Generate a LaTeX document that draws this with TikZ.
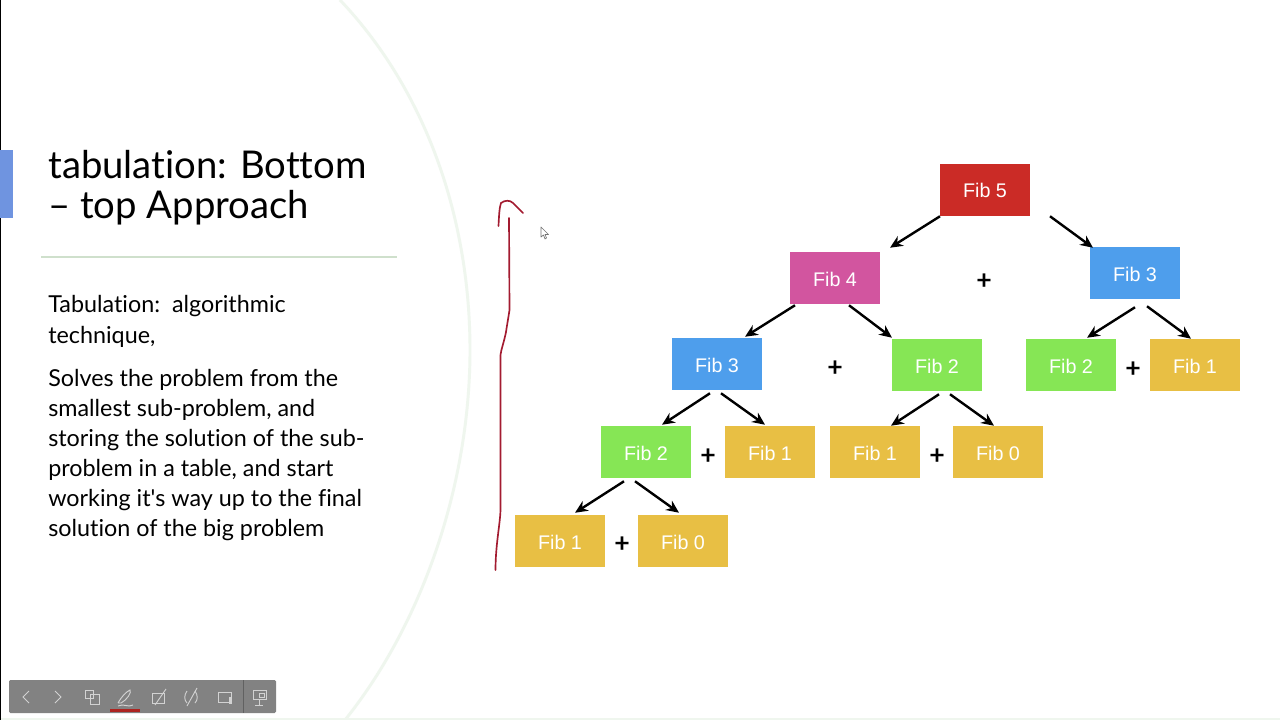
\documentclass[tikz,border=0pt]{standalone}
\usepackage{fontspec}
\newfontfamily\slidefont{Lato}[Ligatures=NoCommon]
\setmainfont{Lato}
\usetikzlibrary{arrows.meta}
\definecolor{fibred}{HTML}{CB2B26}
\definecolor{fibpink}{HTML}{D2559F}
\definecolor{fibblue}{HTML}{4E9EEC}
\definecolor{fibgreen}{HTML}{86E655}
\definecolor{fibgold}{HTML}{E8BF44}
\definecolor{ink}{HTML}{A31B30}
\definecolor{barblue}{HTML}{6F94E0}
\definecolor{arcgreen}{HTML}{EFF6EE}
\definecolor{rulegreen}{HTML}{CFE0CC}
\definecolor{toolgray}{HTML}{828282}
\definecolor{toolicon}{HTML}{D2D2D2}
\tikzset{
  x=0.75pt,y=-0.75pt,
  fib/.style={minimum width=67.5pt,minimum height=39pt,inner sep=0pt,text=white,text height=12pt,text depth=0pt,font=\fontsize{14.8}{16}\selectfont\sffamily},
  arr/.style={draw=black,line width=1.8pt,-{Stealth[length=9.5pt,width=8.5pt]}},
  plus/.style={font=\fontsize{20}{20}\selectfont\bfseries,inner sep=0pt},
  ico/.style={draw=toolicon,line width=0.7pt,fill=none},
  pen/.style={draw=ink,line width=1.25pt,line cap=round,line join=round},
  bodytext/.style={align=left,anchor=north west,inner sep=0pt,font=\slidefont\fontsize{17.5}{22.5}\selectfont}
}
\setsansfont{Liberation Sans}
\begin{document}
\begin{tikzpicture}
\useasboundingbox (0,0) rectangle (1280,720);
\fill[white] (0,0) rectangle (1280,720);
% big soft arc
\draw[arcgreen,line width=2.2pt] (340,0) .. controls (430,95) and (470,225) .. (470,350) .. controls (470,480) and (425,620) .. (345,720);
\fill[arcgreen] (0,717.5) rectangle (1280,720);
\fill[black] (0,0) rectangle (1,720);
\fill[barblue] (0,150) rectangle (13,218);
\draw[rulegreen,line width=0.9pt] (41,257) -- (397,257);
% texts
\node[anchor=north west,inner sep=0pt,align=left,font=\slidefont\fontsize{28.7}{30}\selectfont] (title) at (48,150) {tabulation: Bottom\\– top Approach};
\node[bodytext,font=\slidefont\fontsize{17.5}{23.25}\selectfont] (p1) at (48,295) {Tabulation:\ \ algorithmic\\technique,};
\node[bodytext] (p2) at (48,369.5) {Solves the problem from the\\smallest sub-problem, and\\storing the solution of the sub-\\problem in a table, and start\\working it's way up to the final\\solution of the big problem};
% nodes
\node[fib,fill=fibred]   (a)  at (985,190) {Fib 5};
\node[fib,fill=fibpink]  (b)  at (835,278) {Fib 4};
\node[fib,fill=fibblue]  (c)  at (1135,273) {Fib 3};
\node[fib,fill=fibblue]  (d)  at (717,364) {Fib 3};
\node[fib,fill=fibgreen] (e)  at (937,365) {Fib 2};
\node[fib,fill=fibgreen] (f)  at (1071,365) {Fib 2};
\node[fib,fill=fibgold]  (g)  at (1195,365) {Fib 1};
\node[fib,fill=fibgreen] (h)  at (646,452) {Fib 2};
\node[fib,fill=fibgold]  (i)  at (770,452) {Fib 1};
\node[fib,fill=fibgold]  (j)  at (875,452) {Fib 1};
\node[fib,fill=fibgold]  (k)  at (998,452) {Fib 0};
\node[fib,fill=fibgold]  (l)  at (560,541) {Fib 1};
\node[fib,fill=fibgold]  (m)  at (683,541) {Fib 0};
% plus signs
\node[plus] (p-a) at (984,282) {+};
\node[plus] (p-b) at (835,369) {+};
\node[plus] (p-c) at (1133,370) {+};
\node[plus] (p-d) at (708,457) {+};
\node[plus] (p-e) at (937,457) {+};
\node[plus] (p-f) at (622,545) {+};
% connectors
\draw[arr] ([shift={(-45,0)}]a.south) -- ([shift={(55,-4)}]b.north);
\draw[arr] ([shift={(65,0)}]a.south) -- ([shift={(-42,1)}]c.north);
\draw[arr] ([shift={(-40,1)}]b.south) -- ([shift={(28,-1)}]d.north);
\draw[arr] ([shift={(14,1)}]b.south) -- ([shift={(-45,-1)}]e.north);
\draw[arr] ([shift={(0,8)}]c.south) -- ([shift={(16,-1)}]f.north);
\draw[arr] ([shift={(12,7)}]c.south) -- ([shift={(-4,0)}]g.north);
\draw[arr] ([shift={(-7,3)}]d.south) -- ([shift={(16,-1)}]h.north);
\draw[arr] ([shift={(4,3)}]d.south) -- ([shift={(-5,-1)}]i.north);
\draw[arr] ([shift={(2,3)}]e.south) -- ([shift={(16,0)}]j.north);
\draw[arr] ([shift={(13,3)}]e.south) -- ([shift={(-4,0)}]k.north);
\draw[arr] ([shift={(-22,3)}]h.south) -- ([shift={(15,-2)}]l.north);
\draw[arr] ([shift={(-11,3)}]h.south) -- ([shift={(-4,-2)}]m.north);
% hand-drawn arrow
\draw[pen] (509,218) -- (509.5,310) .. controls (508,320) and (507,325) .. (506,332) .. controls (504,342) and (501,350) .. (500.5,355) -- (500.5,510) .. controls (500,525) and (495.5,545) .. (495.5,570);
\draw[pen] (498.5,226) .. controls (499,215) and (499.5,207) .. (501,203) .. controls (505,200) and (510,200) .. (513,203) -- (523,213);
% mouse pointer
\draw[fill=white,draw=gray!90!black,line width=0.5pt,line join=round] (541,227) -- (541,237) -- (543.5,235) -- (545,239) -- (546.5,238) -- (545,234.5) -- (548.5,234.5) -- cycle;
% toolbar
\fill[toolgray,rounded corners=1pt] (9,680) rectangle (276,713);
\draw[black!25!toolgray,line width=0.4pt] (243,680) -- (243,713);
\draw[ico] (29,691) -- (23,697) -- (29,703);
\draw[ico] (55,691) -- (61,697) -- (55,703);
\draw[ico] (85,690) rectangle (93,698);
\draw[ico] (90,694) rectangle (99,704);
\draw[ico] (118,703) .. controls (122,696) and (126,692) .. (130,690) .. controls (132,692) and (127,700) .. (121,703) -- (118,703);
\draw[ico] (118,706) .. controls (124,703) and (128,708) .. (133,705);
\fill[fibred!85!black] (110,708.5) rectangle (140,712);
\draw[ico] (152,693) rectangle (164,703);
\draw[ico] (155,705) -- (166,689);
\draw[ico] (187,691) .. controls (184,695) and (184,700) .. (187,703);
\draw[ico] (195,691) .. controls (198,695) and (198,700) .. (195,703);
\draw[ico] (187,706) -- (197,688);
\draw[ico] (218,692) rectangle (231,702);
\fill[toolicon] (229,697) rectangle (232,704);
\draw[ico] (253,690) rectangle (266,699);
\draw[ico] (259,699) -- (259,705);
\draw[ico] (255,705) -- (263,705);
\draw[ico] (259,693) rectangle (264,697);
\end{tikzpicture}
\end{document}
